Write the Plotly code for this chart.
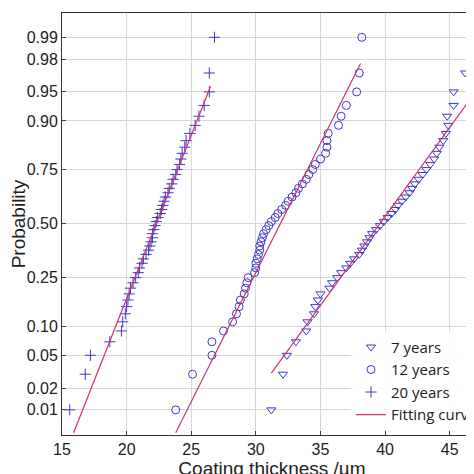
import numpy as np
from statistics import NormalDist
import plotly.graph_objects as go

nd = NormalDist()

# sorted coating thickness readings (um), n=50 each
x_7y = [31.2, 32.1, 32.4, 33.1, 33.9, 34.0, 34.5, 34.6, 34.8, 35.0,
        35.7, 35.9, 36.3, 36.6, 37.0, 37.3, 37.6, 38.0, 38.2, 38.4,
        38.6, 38.8, 39.0, 39.3, 39.6, 39.9, 40.2, 40.5, 40.8, 41.0,
        41.3, 41.6, 41.9, 42.1, 42.3, 42.6, 42.9, 43.2, 43.5, 43.8,
        44.0, 44.2, 44.5, 44.7, 44.9, 44.8, 45.3, 45.3, 46.2, 46.9]
x_12y = [23.8, 25.1, 26.6, 26.6, 27.5, 28.2, 28.5, 28.7, 28.8, 29.1,
         29.2, 29.3, 29.4, 29.9, 30.0, 30.0, 30.1, 30.2, 30.3, 30.3,
         30.4, 30.5, 30.6, 30.8, 31.0, 31.2, 31.5, 31.7, 32.0, 32.3,
         32.5, 32.8, 33.1, 33.3, 33.6, 33.9, 34.1, 34.4, 34.6, 35.0,
         35.4, 35.5, 35.5, 35.6, 36.4, 36.6, 37.0, 37.8, 38.0, 38.2]
x_20y = [15.6, 16.8, 17.2, 18.7, 19.6, 19.7, 19.9, 20.0, 20.1, 20.2,
         20.3, 20.5, 20.7, 20.9, 21.0, 21.2, 21.3, 21.5, 21.7, 21.8,
         21.9, 22.0, 22.0, 22.1, 22.2, 22.3, 22.4, 22.6, 22.7, 22.8,
         22.9, 23.0, 23.2, 23.3, 23.5, 23.6, 23.8, 23.9, 24.1, 24.2,
         24.3, 24.5, 24.6, 24.9, 25.3, 25.6, 26.0, 26.4, 26.4, 26.8]

# fitted normal parameters (mean, sd, x range of drawn line)
fits = [(39.6, 4.5, 31.2, 47.0), (31.9, 3.1, 23.8, 38.1), (22.3, 2.45, 15.9, 26.5)]

prob_ticks = [0.01, 0.02, 0.05, 0.10, 0.25, 0.50, 0.75, 0.90, 0.95, 0.98, 0.99]
tick_text = ["0.01", "0.02", "0.05", "0.10", "0.25", "0.50", "0.75", "0.90", "0.95", "0.98", "0.99"]

blue = "#3b3bc8"
red = "#d4306a"

def z_of(xs):
    n = len(xs)
    return [nd.inv_cdf((i + 0.5) / n) for i in range(n)]

fig = go.Figure()
series = [("7 years", x_7y, "triangle-down-open"),
          ("12 years", x_12y, "circle-open"),
          ("20 years", x_20y, "cross-thin-open")]
for name, xs, sym in series:
    fig.add_trace(go.Scatter(x=xs, y=z_of(xs), mode="markers", name=name,
                             marker=dict(symbol=sym, size=8, color=blue,
                                         line=dict(color=blue, width=1))))
for k, (mu, sd, x0, x1) in enumerate(fits):
    xl = np.array([x0, x1])
    fig.add_trace(go.Scatter(x=xl, y=(xl - mu) / sd, mode="lines", name="Fitting curve",
                             line=dict(color=red, width=1.2), showlegend=(k == 0)))

fig.update_layout(
    width=474, height=474, plot_bgcolor="white", paper_bgcolor="white",
    margin=dict(l=54, r=0, t=5, b=47, autoexpand=False),
    font=dict(family="Liberation Sans, Arial", size=16, color="#222"),
    legend=dict(x=1.0, y=0.01, xanchor="right", yanchor="bottom",
                bgcolor="rgba(255,255,255,0.9)", borderwidth=0, itemwidth=30,
                font=dict(family="Open Sans", size=15), tracegroupgap=0),
)
fig.update_xaxes(range=[15, 47.5], tickvals=[15, 20, 25, 30, 35, 40, 45],
                 title=dict(text="Coating thickness /µm", standoff=0), automargin=False,
                 showgrid=True, gridcolor="#d8d8d8", showline=True, linecolor="#333",
                 mirror=True, ticks="inside", ticklen=4, zeroline=False)
fig.update_yaxes(range=[-2.64, 2.63], tickvals=[nd.inv_cdf(p) for p in prob_ticks],
                 ticktext=tick_text, title=dict(text="Probability", standoff=0), automargin=False,
                 showgrid=True, gridcolor="#d8d8d8", showline=True, linecolor="#333",
                 mirror=True, ticks="inside", ticklen=4, zeroline=False)

fig.write_html("out.html")
